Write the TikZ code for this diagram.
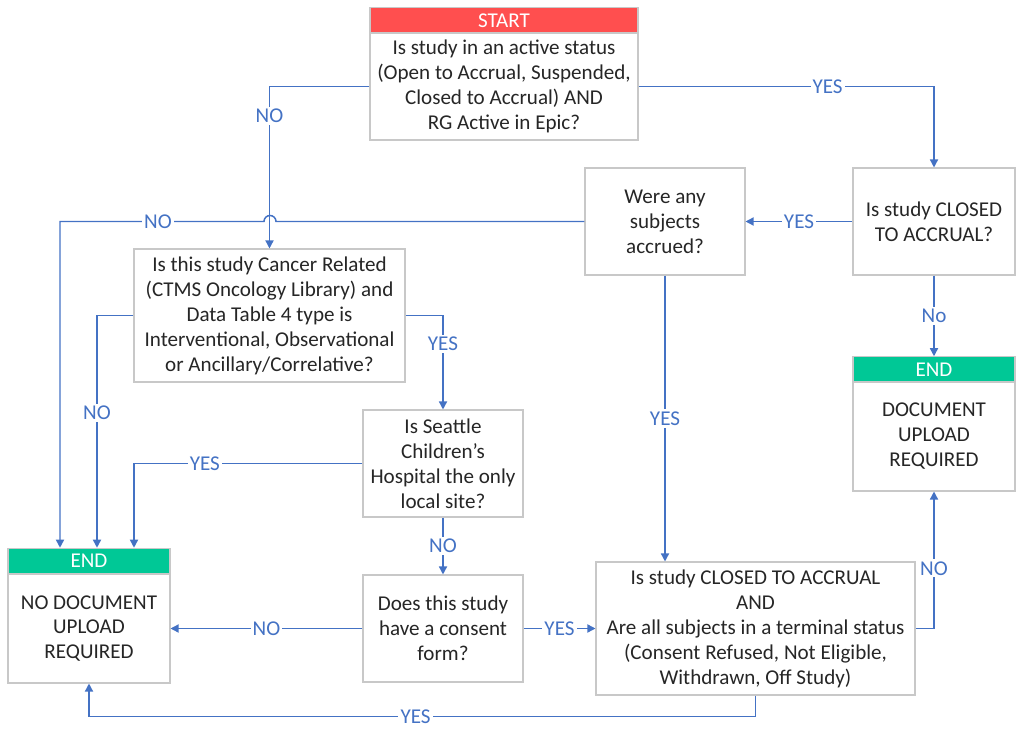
\documentclass[tikz,border=0pt]{standalone}
\usepackage{fontspec}
\setmainfont{Carlito}
\usetikzlibrary{arrows.meta,positioning}

\definecolor{flowblue}{HTML}{4472C4}
\definecolor{boxgray}{HTML}{C8C8C8}
\definecolor{startred}{HTML}{FF4F4F}
\definecolor{endgreen}{HTML}{00C896}

\tikzset{
  txt/.style={font=\fontsize{12pt}{14.2pt}\selectfont},
  qbox/.style 2 args={draw=boxgray,line width=.6pt,fill=white,align=center,txt,
    text=black!85,inner sep=0pt,minimum width=#1*.02cm,minimum height=#2*.02cm},
  hdr/.style={qbox={#1}{25.5},text=white},
  flow/.style={draw=flowblue,line width=.85pt,-{Triangle[length=4.6pt,width=4.6pt]}},
  lbl/.style={fill=white,text=flowblue,txt,inner sep=1.2pt}
}

\begin{document}
\begin{tikzpicture}[x=.02cm,y=-.02cm]
\useasboundingbox (0,0) rectangle (1024,733);

% boxes
\node[hdr=268,fill=startred] (starthd) at (504,20.5) {START};
\node[qbox={268}{107}] (start) at (504,86.5) {Is study in an active status\\(Open to Accrual, Suspended,\\Closed to Accrual) AND\\RG Active in Epic?};
\node[qbox={160}{107}] (accrued) at (665,221.5) {Were any\\subjects\\accrued?};
\node[qbox={162}{107}] (closed) at (934,221.5) {Is study CLOSED\\TO ACCRUAL?};
\node[qbox={271}{133}] (cancer) at (269.5,315.5) {Is this study Cancer Related\\(CTMS Oncology Library) and\\Data Table 4 type is\\Interventional, Observational\\or Ancillary/Correlative?};
\node[hdr=162,fill=endgreen] (endrhd) at (934,369.5) {END};
\node[qbox={162}{109}] (endr) at (934,436.5) {DOCUMENT\\UPLOAD\\REQUIRED};
\node[qbox={160}{107}] (seattle) at (443,463.5) {Is Seattle\\Children’s\\Hospital the only\\local site?};
\node[hdr=162,fill=endgreen] (endlhd) at (89,561) {END};
\node[qbox={162}{109}] (endl) at (89,628.5) {NO DOCUMENT\\UPLOAD\\REQUIRED};
\node[qbox={160}{107}] (consent) at (443,628.5) {Does this study\\have a consent\\form?};
\node[qbox={319}{133}] (terminal) at (755.5,628.5) {Is study CLOSED TO ACCRUAL\\AND\\Are all subjects in a terminal status\\(Consent Refused, Not Eligible,\\Withdrawn, Off Study)};

% connectors
\draw[flow] (start.west) -| node[lbl,pos=.59] {NO} (cancer.north);
\draw[flow] (start.east) -| node[lbl,pos=.32] {YES} (closed.north);
\draw[flow] (closed.west) -- node[lbl] {YES} (accrued.east);
\draw[flow] (accrued.west) -- (276,221.5) arc[start angle=0,end angle=-180,radius=6]
  -- node[lbl,pos=.52] {NO} (60,221.5) -- (endlhd.north -| 60,0);
\draw[flow] (closed.south) -- node[lbl] {No} (endrhd.north);
\draw[flow] (cancer.west) -| node[lbl,pos=.71] {NO} (endlhd.north -| 97,0);
\draw[flow] (cancer.east) -| node[lbl,pos=.65] {YES} (seattle.north);
\draw[flow] (seattle.west) -| node[lbl,pos=.345] {YES} (endlhd.north -| 134,0);
\draw[flow] (seattle.south) -- node[lbl] {NO} (consent.north);
\draw[flow] (consent.west) -- node[lbl] {NO} (endl.east);
\draw[flow] (consent.east) -- node[lbl] {YES} (terminal.west);
\draw[flow] (accrued.south) -- node[lbl] {YES} (accrued.south |- terminal.north);
\draw[flow] (terminal.east) -| node[lbl,pos=.72] {NO} (endr.south);
\draw[flow] (terminal.south) -- ++(0,21) -| node[lbl,pos=.255] {YES} (endl.south);
\end{tikzpicture}
\end{document}
